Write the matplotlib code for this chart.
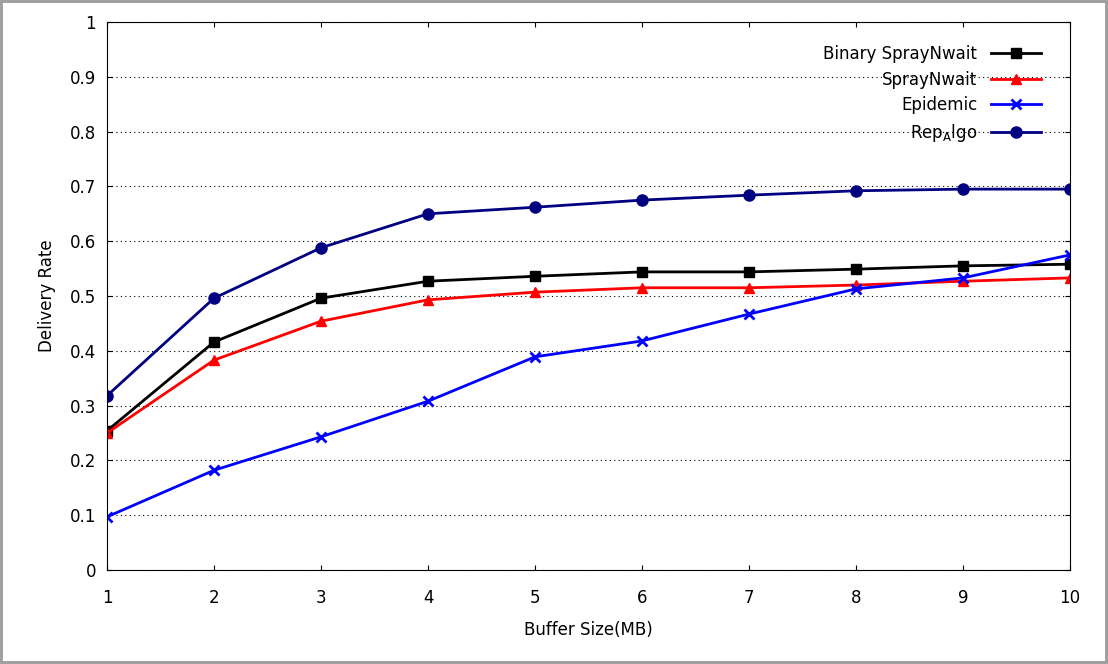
import matplotlib
matplotlib.use("Agg")
import matplotlib.pyplot as plt

buffer_mb = [1, 2, 3, 4, 5, 6, 7, 8, 9, 10]
binary_spray = [0.254, 0.416, 0.496, 0.527, 0.536, 0.544, 0.544, 0.549, 0.555, 0.558]
spray = [0.250, 0.383, 0.454, 0.493, 0.507, 0.515, 0.515, 0.520, 0.527, 0.533]
epidemic = [0.097, 0.182, 0.243, 0.308, 0.389, 0.418, 0.467, 0.513, 0.533, 0.575]
rep_algo = [0.318, 0.496, 0.588, 0.650, 0.662, 0.675, 0.684, 0.692, 0.695, 0.695]
yticks = [0, 0.1, 0.2, 0.3, 0.4, 0.5, 0.6, 0.7, 0.8, 0.9, 1]
ylabels = ["0", "0.1", "0.2", "0.3", "0.4", "0.5", "0.6", "0.7", "0.8", "0.9", "1"]

fig = plt.figure(figsize=(11.08, 6.64), dpi=100)
fig.patch.set_edgecolor("#a0a0a0")
fig.patch.set_linewidth(4)
ax = fig.add_axes([107/1108, 1-570/664, (1070-107)/1108, (570-22)/664])

ax.plot(buffer_mb, binary_spray, color="black", lw=2, marker="s", ms=7, label="Binary SprayNwait")
ax.plot(buffer_mb, spray, color="red", lw=2, marker="^", ms=7, label="SprayNwait")
ax.plot(buffer_mb, epidemic, color="blue", lw=2, marker="x", ms=7, mew=2, label="Epidemic")
ax.plot(buffer_mb, rep_algo, color="#000080", lw=2, marker="o", ms=8, label="Rep$_{\\mathrm{A}}$lgo")

ax.set_xlim(1, 10)
ax.set_ylim(0, 1)
ax.set_xticks(buffer_mb)
ax.set_yticks(yticks)
ax.set_yticklabels(ylabels)
ax.tick_params(axis="x", pad=14)
ax.tick_params(axis="y", pad=8)
ax.tick_params(labelsize=12, direction="in", top=True, right=True)
ax.yaxis.grid(True, linestyle=(0, (1, 3)), color="black", lw=0.8)
ax.set_xlabel("Buffer Size(MB)", fontsize=12, labelpad=10)
ax.set_ylabel("Delivery Rate", fontsize=12, labelpad=10)
ax.legend(loc="upper right", markerfirst=False, frameon=False, fontsize=12,
          handlelength=3, labelspacing=0.45, bbox_to_anchor=(0.985, 0.985))
fig.savefig("out.png", dpi=100)
